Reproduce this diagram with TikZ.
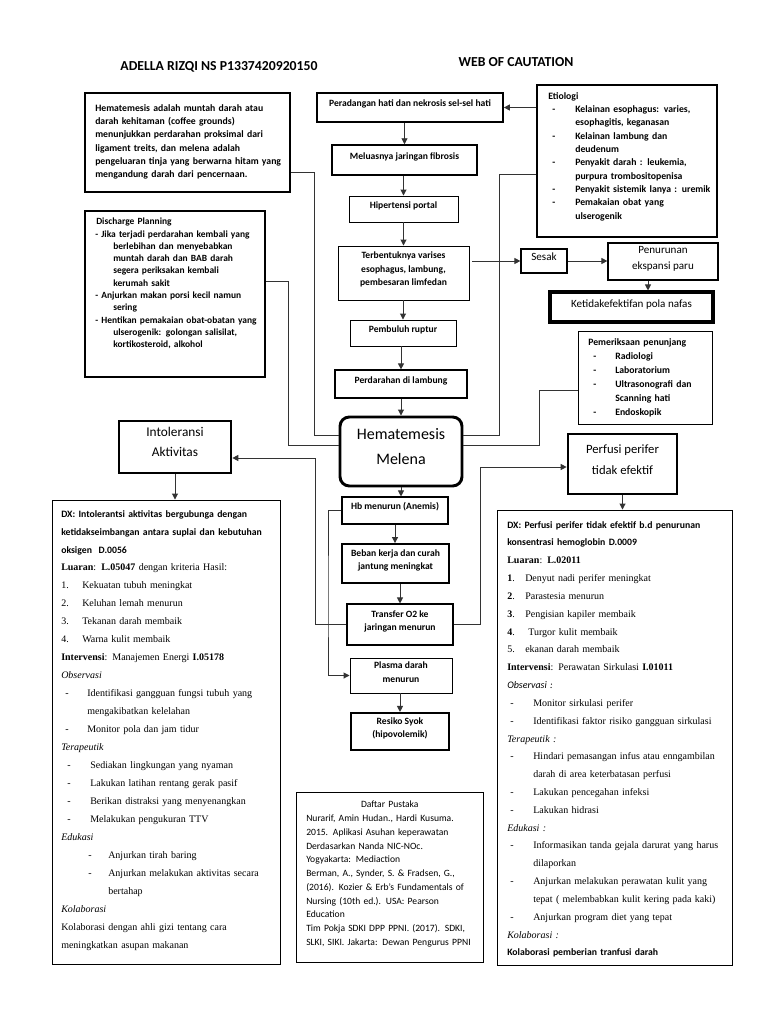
\documentclass[tikz,border=0pt]{standalone}
\usepackage{fontspec}
\setmainfont{Carlito}
\newfontfamily\tnr{Liberation Serif}
\newfontfamily\crl{Carlito}
\usetikzlibrary{arrows.meta,calc,fit}
\newdimen\pxu \pxu=0.75pt
\newcommand\fs[2]{\fontsize{#1}{#2}\selectfont}
\newcommand\jl[2]{\makebox[#1\pxu][s]{#2}}
\newcommand\idt[1]{\hspace*{#1\pxu}}
\newcommand\cel[2]{\makebox[#1\pxu][l]{#2}}
\newcommand\dxh{\crl\bfseries\fontsize{7.3}{13.4}\selectfont}
\setlength\parindent{0pt}
\begin{document}
\begin{tikzpicture}[x=0.75pt,y=-0.75pt,
  line/.style={draw=black!80,line width=0.7pt},
  arr/.style={line,-{Triangle[length=4.5pt,width=4.5pt]}},
  bx/.style={draw=black,inner sep=0pt,align=center,line width=0.7pt},
  chainbox/.style={bx,font=\fs{7.2}{10}\bfseries},
  txt/.style={inner sep=0pt,anchor=north west,align=left},
  boldt/.style={font=\fs{7.3}{10}\bfseries}
]
\fill[white] (0,0) rectangle (768,1024);
\useasboundingbox (0,0) rectangle (768,1024);

% titles
\node[font=\fs{10.3}{12}\bfseries] (title) at (219,67) {ADELLA RIZQI NS P1337420920150};
\node[font=\fs{10.3}{12}\bfseries] (web) at (516,62) {WEB OF CAUTATION};

% definition box
\node[bx,line width=1.3pt,fit={(85,93) (290,192)}] (def) {};
\node[txt,boldt,text width=190\pxu] (deft) at (95,104) {%
\jl{187}{Hematemesis adalah muntah darah atau}\\
\jl{187}{darah kehitaman (coffee grounds)}\\
\jl{187}{menunjukkan perdarahan proksimal dari}\\
\jl{187}{ligament treits, dan melena adalah}\\
\jl{187}{pengeluaran tinja yang berwarna hitam yang}\\
mengandung darah dari pencernaan.};

% discharge planning
\node[bx,line width=1.3pt,fit={(85,211) (265,377)}] (dc) {};
\node[txt,font=\fs{7.1}{9.2}\bfseries,text width=166\pxu] (dct) at (95,218) {%
\idt{1}Discharge Planning\\
\jl{162}{- Jika terjadi perdarahan kembali yang}\\
\idt{18}\jl{144}{berlebihan dan menyebabkan}\\
\idt{18}\jl{144}{muntah darah dan BAB darah}\\
\idt{18}\jl{144}{segera periksakan kembali}\\
\idt{18}kerumah sakit\\
\jl{162}{- Anjurkan makan porsi kecil namun}\\
\idt{18}sering\\
\jl{162}{- Hentikan pemakaian obat-obatan yang}\\
\idt{18}\jl{144}{ulserogenik: golongan salisilat,}\\
\idt{18}kortikosteroid, alkohol};

% main chain
\node[chainbox,line width=1.3pt,fit={(317,93) (503,122)}] (per) {Peradangan hati dan nekrosis sel-sel hati};
\node[chainbox,line width=1.1pt,fit={(332,145) (477,175)}] (melu) {Meluasnya jaringan fibrosis};
\node[chainbox,fit={(349,196) (458,222)}] (hip) {Hipertensi portal};
\node[chainbox,text width=125\pxu,fit={(338,246) (469,300)}] (terb) {Terbentuknya varises\\esophagus, lambung,\\pembesaran limfedan};
\node[chainbox,fit={(350,320) (456,346)}] (pemb) {Pembuluh ruptur};
\node[chainbox,line width=0.9pt,fit={(335,370) (467,398)}] (perd) {Perdarahan di lambung};
\node[bx,rounded corners=7pt,line width=2.2pt,font=\fs{12}{18.7},text width=115\pxu,fit={(340,417) (462,486)}] (hm) {\raisebox{-2\pxu}{Hematemesis}\\\raisebox{-2\pxu}{Melena}};

% etiologi
\node[bx,line width=1.1pt,fit={(537,85) (717,237)}] (etio) {};
\node[txt,boldt,text width=172\pxu] (etiot) at (548,92) {%
Etiologi\\
\idt{4}\cel{23}{-}\jl{138}{Kelainan esophagus: varies,}\\
\idt{27}esophagitis, keganasan\\
\idt{4}\cel{23}{-}\jl{138}{Kelainan lambung dan}\\
\idt{27}deudenum\\
\idt{4}\cel{23}{-}\jl{138}{Penyakit darah : leukemia,}\\
\idt{27}purpura trombositopenisa\\
\idt{4}\cel{23}{-}Penyakit sistemik lanya : uremik\\
\idt{4}\cel{23}{-}\jl{138}{Pemakaian obat yang}\\
\idt{27}ulserogenik};

% breathing branch
\node[bx,line width=0.9pt,font=\fs{8.3}{12},fit={(521,249) (567,273)}] (ses) {Sesak};
\node[bx,line width=0.9pt,font=\fs{8.3}{12},text width=104\pxu,fit={(608,243) (718,280)}] (pen) {\raisebox{-1\pxu}{Penurunan}\\\raisebox{-1\pxu}{ekspansi paru}};
\node[bx,line width=2.3pt,font=\fs{8.3}{12},fit={(550,292) (713,322)}] (ket) {\raisebox{-2\pxu}{Ketidakefektifan pola nafas}};

% pemeriksaan
\node[bx,fit={(578,331) (712,424)}] (pem) {};
\node[txt,font=\fs{7.3}{10.5}\bfseries,text width=122\pxu] (pemt) at (588,338) {%
Pemeriksaan penunjang\\
\idt{5}\cel{22}{-}Radiologi\\
\idt{5}\cel{22}{-}Laboratorium\\
\idt{5}\cel{22}{-}\jl{88}{Ultrasonografi dan}\\
\idt{27}Scanning hati\\
\idt{5}\cel{22}{-}Endoskopik};

% diagnoses
\node[bx,line width=2pt,font=\fs{10}{15},text width=106\pxu,fit={(119,421) (231,473)}] (intol) {Intoleransi\\Aktivitas};
\node[bx,line width=2pt,font=\fs{9.5}{16},text width=103\pxu,fit={(568,434) (677,494)}] (perf) {Perfusi perifer\\tidak efektif};

% lower chain
\node[chainbox,line width=0.8pt,fit={(342,497) (448,524)}] (hb) {Hb menurun (Anemis)};
\node[chainbox,line width=1.4pt,text width=103\pxu,fit={(342,544) (449,583)}] (beb) {Beban kerja dan curah\\jantung meningkat};
\node[chainbox,line width=0.8pt,text width=102\pxu,fit={(347,604) (453,645)}] (tr) {Transfer O2 ke\\jaringan menurun};
\node[chainbox,text width=98\pxu,fit={(350,658) (452,693)}] (pla) {Plasma darah\\menurun};
\node[chainbox,line width=1.6pt,text width=94\pxu,fit={(351,713) (449,750)}] (res) {Resiko Syok\\(hipovolemik)};

% left DX
\node[bx,fit={(52,500) (280,964)}] (ldx) {};
\node[txt,font=\tnr\fs{7.5}{13.47},text width=224\pxu] (ldxt) at (61,510) {%
{\dxh DX: Intolerantsi aktivitas bergubunga dengan}\\
{\dxh ketidakseimbangan antara suplai dan kebutuhan}\\
{\dxh oksigen\ \ D.0056}\\
\textbf{Luaran}: \textbf{L.05047} dengan kriteria Hasil:\\
\cel{21}{1.}Kekuatan tubuh meningkat\\
\cel{21}{2.}Keluhan lemah menurun\\
\cel{21}{3.}Tekanan darah membaik\\
\cel{21}{4.}Warna kulit membaik\\
\textbf{Intervensi}: Manajemen Energi \textbf{I.05178}\\
\textit{Observasi}\\
\idt{4}\cel{22}{-}Identifikasi gangguan fungsi tubuh yang\\
\idt{26}mengakibatkan kelelahan\\
\idt{4}\cel{22}{-}Monitor pola dan jam tidur\\
\textit{Terapeutik}\\
\idt{6}\cel{23}{-}Sediakan lingkungan yang nyaman\\
\idt{6}\cel{23}{-}Lakukan latihan rentang gerak pasif\\
\idt{6}\cel{23}{-}Berikan distraksi yang menyenangkan\\
\idt{6}\cel{23}{-}Melakukan pengukuran TTV\\
\textit{Edukasi}\\
\idt{27}\cel{20}{-}Anjurkan tirah baring\\
\idt{27}\cel{20}{-}Anjurkan melakukan aktivitas secara\\
\idt{47}bertahap\\
\textit{Kolaborasi}\\
Kolaborasi dengan ahli gizi tentang cara\\
meningkatkan asupan makanan};

% right DX
\node[bx,fit={(497,510) (732,965)}] (rdx) {};
\node[txt,font=\tnr\fs{7.5}{13.37},text width=224\pxu] (rdxt) at (507,521) {%
{\dxh DX: Perfusi perifer tidak efektif b.d penurunan}\\
{\dxh konsentrasi hemoglobin D.0009}\\
\textbf{Luaran}: \textbf{L.02011}\\
\cel{18}{\textbf{1}.}Denyut nadi perifer meningkat\\
\cel{18}{\textbf{2}.}Parastesia menurun\\
\cel{18}{\textbf{3}.}Pengisian kapiler membaik\\
\cel{21}{\textbf{4}.}Turgor kulit membaik\\
\cel{18}{5.}ekanan darah membaik\\
\textbf{Intervensi}: Perawatan Sirkulasi \textbf{I.01011}\\
{\crl\itshape Observasi :}\\
\idt{3}\cel{23}{-}Monitor sirkulasi perifer\\
\idt{3}\cel{23}{-}Identifikasi faktor risiko gangguan sirkulasi\\
\textit{Terapeutik :}\\
\idt{3}\cel{23}{-}Hindari pemasangan infus atau enngambilan\\
\idt{26}darah di area keterbatasan perfusi\\
\idt{3}\cel{23}{-}Lakukan pencegahan infeksi\\
\idt{3}\cel{23}{-}Lakukan hidrasi\\
\textit{Edukasi :}\\
\idt{3}\cel{23}{-}Informasikan tanda gejala darurat yang harus\\
\idt{26}dilaporkan\\
\idt{3}\cel{23}{-}Anjurkan melakukan perawatan kulit yang\\
\idt{26}tepat ( melembabkan kulit kering pada kaki)\\
\idt{3}\cel{23}{-}Anjurkan program diet yang tepat\\
\textit{Kolaborasi :}\\
{\dxh Kolaborasi pemberian tranfusi darah}};

% daftar pustaka
\node[bx,fit={(296,792) (483,962)}] (dp) {};
\node[txt,font=\fs{7.2}{10.3},text width=170\pxu] (dpt) at (306,801) {%
\makebox[167\pxu][c]{Daftar Pustaka}\\
\jl{167}{Nurarif, Amin Hudan., Hardi Kusuma.}\\
\jl{167}{2015. Aplikasi Asuhan keperawatan}\\
\jl{167}{Derdasarkan Nanda NIC-NOc.}\\
Yogyakarta: Mediaction\\
\jl{167}{Berman, A., Synder, S. \& Fradsen, G.,}\\
\jl{167}{(2016). Kozier \& Erb's Fundamentals of}\\
\jl{167}{Nursing (10th ed.). USA: Pearson}\\
Education\\
\jl{167}{Tim Pokja SDKI DPP PPNI. (2017). SDKI,}\\
\jl{167}{SLKI, SIKI. Jakarta: Dewan Pengurus PPNI}};

% connectors: main chain
\draw[arr] (etio.west |- per.east) -- (per.east);
\draw[arr] (melu.north |- per.south) -- (melu.north);
\draw[arr] (hip.north |- melu.south) -- (hip.north);
\draw[arr] (terb.north |- hip.south) -- (terb.north);
\draw[arr] (pemb.north |- terb.south) -- (pemb.north);
\draw[arr] (perd.north |- pemb.south) -- (perd.north);
\draw[arr] (hm.north |- perd.south) -- (hm.north);
\draw[arr] (hm.south) -- (hm.south |- hb.north);
\draw[arr] (hb.south) -- (hb.south |- beb.north);
\draw[arr] (tr.north |- beb.south) -- (tr.north);
\draw[arr] (res.north |- pla.south) -- (res.north);

% side boxes into Hematemesis Melena
\coordinate (cA) at (314,172);
\draw[line] (cA -| def.east) -- (cA) |- ($(hm.west)+(0,-16)$);
\coordinate (cB) at (288,281);
\draw[line] (cB -| dc.east) -- (cB) |- ($(hm.west)+(0,-6)$);
\coordinate (cC) at (499,174);
\draw[line] (cC -| etio.west) -- (cC) |- ($(hm.east)+(0,-16)$);
\coordinate (cD) at (539,390);
\draw[line] (cD -| pem.west) -- (cD) |- ($(hm.east)+(0,-6)$);

% breathing branch
\draw[arr,shorten <=3\pxu] (terb.east |- ses.west) -- (ses.west);
\draw[arr] (ses.east) -- (ses.east -| pen.west);
\coordinate (cH) at ($(pen.south)+(-15,0)$);
\draw[arr] (cH) -- (cH |- ket.north);

% transfer O2 to diagnoses
\coordinate (cE) at (315,458);
\draw[arr] (tr.west) -| (cE) -- (cE -| intol.east);
\coordinate (cF) at (480,467);
\draw[arr] (tr.east) -| (cF) -- (cF -| perf.west);
\coordinate (cG) at (328,600);
\draw[arr] (hb.west) -| (cG) |- (pla.west);
\draw[arr] (intol.south) -- (intol.south |- ldx.north);
\draw[arr] (perf.south) -- (perf.south |- rdx.north);
\end{tikzpicture}
\end{document}
